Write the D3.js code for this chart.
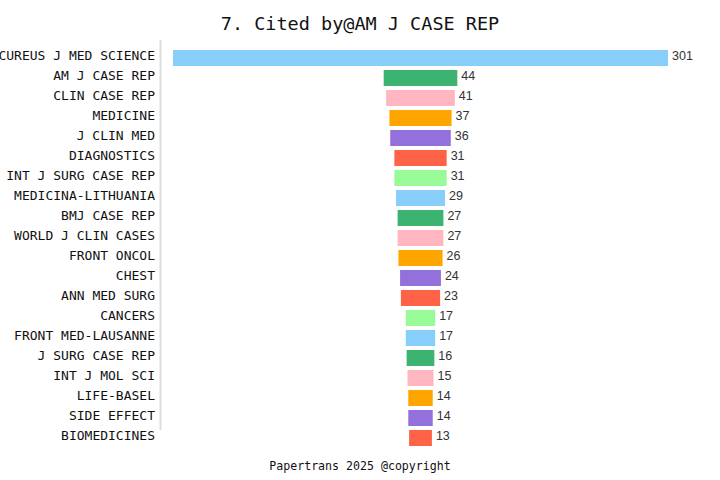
<!DOCTYPE html>
<html><head><meta charset="utf-8">
<script src="https://cdn.jsdelivr.net/npm/d3@7/dist/d3.min.js"></script>
<style>body{margin:0;background:#fff}</style>
</head><body>
<svg id="c" width="720" height="480"></svg>
<script>
const categories = ["CUREUS J MED SCIENCE","AM J CASE REP","CLIN CASE REP","MEDICINE","J CLIN MED","DIAGNOSTICS","INT J SURG CASE REP","MEDICINA-LITHUANIA","BMJ CASE REP","WORLD J CLIN CASES","FRONT ONCOL","CHEST","ANN MED SURG","CANCERS","FRONT MED-LAUSANNE","J SURG CASE REP","INT J MOL SCI","LIFE-BASEL","SIDE EFFECT","BIOMEDICINES"];
const values = [301,44,41,37,36,31,31,29,27,27,26,24,23,17,17,16,15,14,14,13];
const palette = ["#87CEFA","#3CB371","#FFB6C1","#FFA500","#9370DB","#FF6347","#98FB98"];
const title = "7. Cited by@AM J CASE REP";
const footer = "Papertrans 2025 @copyright";

const svg = d3.select("#c");
const mono = "'DejaVu Sans Mono', monospace";
const centerX = 420.5;
const y = d3.scaleBand().domain(categories).range([48, 448]).paddingInner(0.2).paddingOuter(0.1);
const w = d3.scaleLinear().domain([0, 301]).range([1.5, 495]);

svg.append("text").attr("x", 360).attr("y", 30).attr("text-anchor", "middle")
  .style("font-family", mono).style("font-size", "18.5px").attr("fill", "#111").text(title);

svg.append("line").attr("x1", 160.5).attr("x2", 160.5).attr("y1", 40).attr("y2", 430)
  .attr("stroke", "#dddddd").attr("stroke-width", 2);

const g = svg.append("g");
g.selectAll("rect").data(values).join("rect")
  .attr("x", d => centerX - w(d) / 2)
  .attr("y", (d, i) => y(categories[i]))
  .attr("width", d => w(d))
  .attr("height", y.bandwidth())
  .attr("fill", (d, i) => palette[i % palette.length]);

g.selectAll("text.v").data(values).join("text").attr("class", "v")
  .attr("x", d => centerX + w(d) / 2 + 4)
  .attr("y", (d, i) => y(categories[i]) + y.bandwidth() / 2)
  .attr("dy", "0.15em")
  .style("font-family", "'Liberation Sans', Arial, sans-serif").style("font-size", "12.5px")
  .attr("fill", "#333").text(d => d);

g.selectAll("text.c").data(categories).join("text").attr("class", "c")
  .attr("x", 155)
  .attr("y", d => y(d) + y.bandwidth() / 2)
  .attr("dy", "0.17em").attr("text-anchor", "end")
  .style("font-family", mono).style("font-size", "13px")
  .attr("fill", "#111").text(d => d);

svg.append("text").attr("x", 360).attr("y", 470).attr("text-anchor", "middle")
  .style("font-family", mono).style("font-size", "11.6px").attr("fill", "#111").text(footer);
</script>
</body></html>
